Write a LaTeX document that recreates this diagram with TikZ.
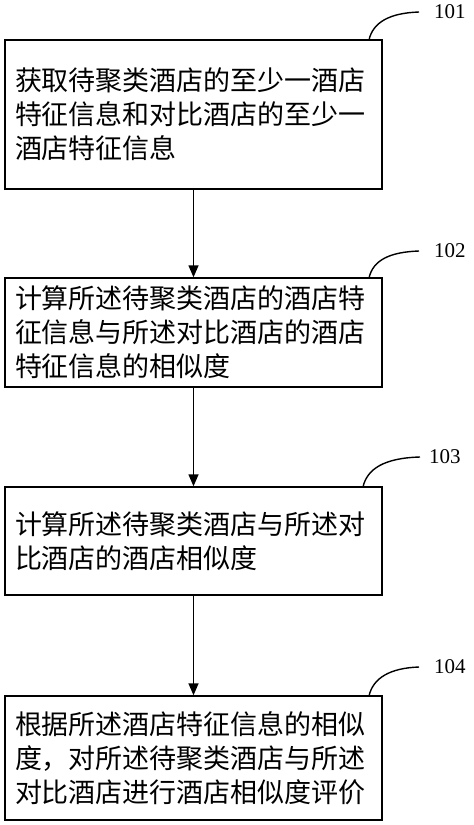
\documentclass[tikz,border=0pt]{standalone}
\usepackage{fontspec}
\setmainfont{Liberation Serif}
\newfontfamily\cjk{Noto Sans CJK SC}
\usetikzlibrary{arrows.meta}
\begin{document}
\begin{tikzpicture}[x=1pt,y=-1pt,
  stepbox/.style={draw,line width=1.4pt,rectangle,minimum width=377pt,text width=357pt,inner xsep=10pt,inner ysep=0pt,align=left,font=\cjk\fontsize{27}{34}\selectfont,fill=white},
  flow/.style={line width=1.4pt,-{Triangle[length=12pt,width=10pt]}},
  lead/.style={line width=1.4pt},
  numlab/.style={font=\fontsize{21}{24}\selectfont,anchor=west,inner sep=0pt}]
\useasboundingbox[fill=white] (0,0) rectangle (474,825);
\node[stepbox,minimum height=149pt] (b1) at (193.5,114.5) {获取待聚类酒店的至少一酒店\\特征信息和对比酒店的至少一\\酒店特征信息};
\node[stepbox,minimum height=109pt] (b2) at (193.5,332.5) {计算所述待聚类酒店的酒店特\\征信息与所述对比酒店的酒店\\特征信息的相似度};
\node[stepbox,minimum height=108pt] (b3) at (193.5,541) {计算所述待聚类酒店与所述对\\比酒店的酒店相似度};
\node[stepbox,minimum height=124pt] (b4) at (193.5,758) {根据所述酒店特征信息的相似\\度，对所述待聚类酒店与所述\\对比酒店进行酒店相似度评价};
\draw[flow] (b1.south) -- (b2.north);
\draw[flow] (b2.south) -- (b3.north);
\draw[flow] (b3.south) -- (b4.north);
\node[numlab] (l1) at (434,12) {101};
\node[numlab] (l2) at (434,251) {102};
\node[numlab] (l3) at (429,457) {103};
\node[numlab] (l4) at (434,667) {104};
\coordinate (c1) at (369,40);
\coordinate (c2) at (369,278);
\coordinate (c3) at (363,487);
\coordinate (c4) at (369,696);
\draw[lead] (c1) .. controls (373,22) and (390,13) .. (419,12);
\draw[lead] (c2) .. controls (373,260) and (390,252) .. (419,251);
\draw[lead] (c3) .. controls (367,469) and (384,458) .. (420,457);
\draw[lead] (c4) .. controls (373,678) and (390,668) .. (419,667);
\end{tikzpicture}
\end{document}
